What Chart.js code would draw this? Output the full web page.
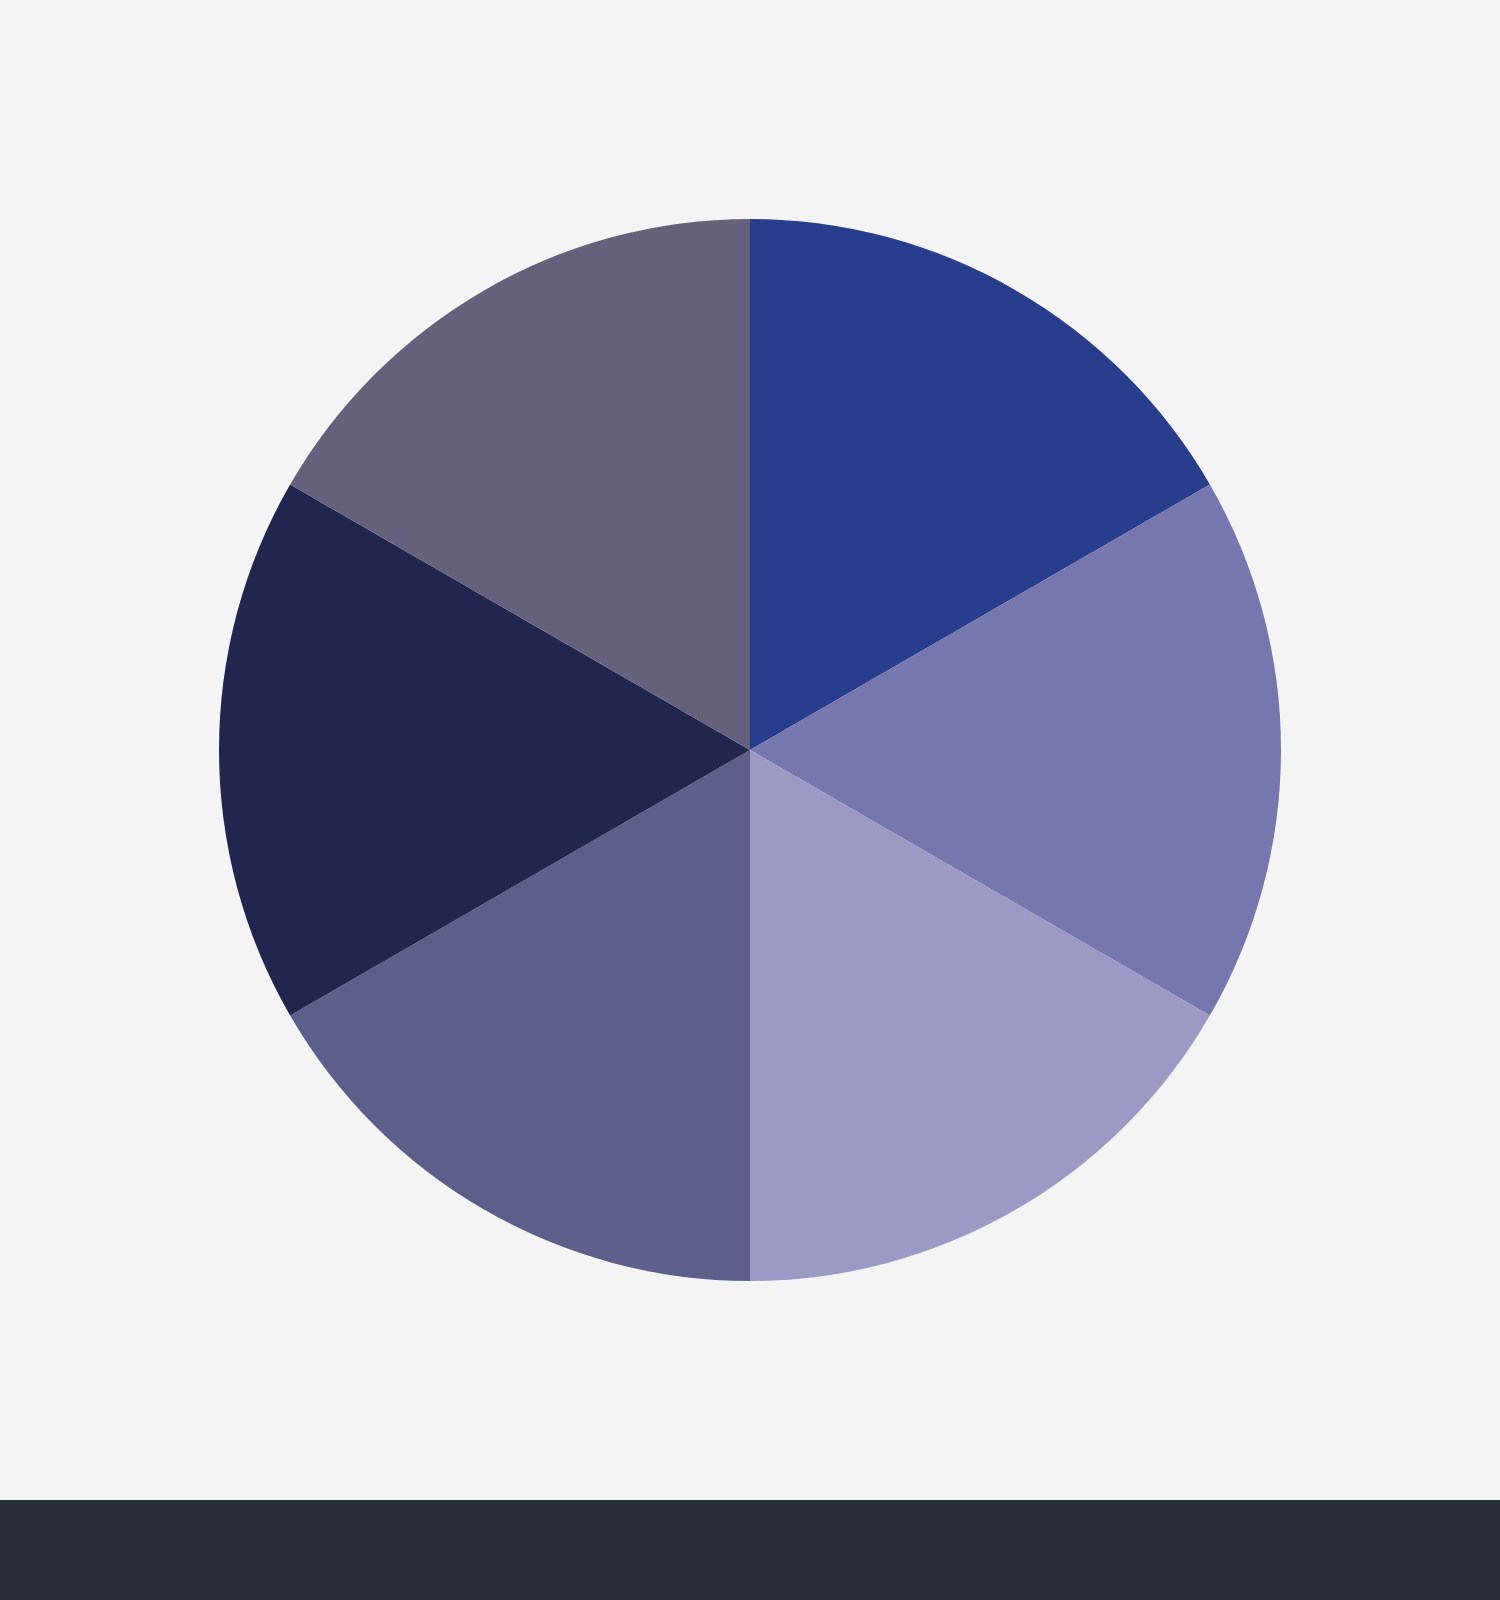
<!DOCTYPE html>
<html>
<head>
<meta charset="utf-8">
<script src="https://cdn.jsdelivr.net/npm/chart.js@4/dist/chart.umd.min.js"></script>
<style>
  html, body { margin: 0; padding: 0; background: #f4f4f4; }
  #wrap { position: relative; width: 1500px; height: 1500px; background: #f4f4f4; }
  #footer { width: 1500px; height: 100px; background: #282e39; }
</style>
</head>
<body>
<div id="wrap"><canvas id="c" width="1500" height="1500"></canvas></div>
<div id="footer"></div>
<script>
const categories = ["Segment 1", "Segment 2", "Segment 3", "Segment 4", "Segment 5", "Segment 6"];
const values = [1, 1, 1, 1, 1, 1];
const sliceColors = ["#283d8b", "#7677af", "#9c9ac4", "#5d5f8b", "#20264d", "#65617d"];

new Chart(document.getElementById("c"), {
  type: "pie",
  data: {
    labels: categories,
    datasets: [{
      data: values,
      backgroundColor: sliceColors,
      borderWidth: 0
    }]
  },
  options: {
    responsive: false,
    devicePixelRatio: 1,
    animation: false,
    layout: { padding: 219 },
    plugins: {
      legend: { display: false },
      tooltip: { enabled: false }
    }
  }
});
</script>
</body>
</html>
